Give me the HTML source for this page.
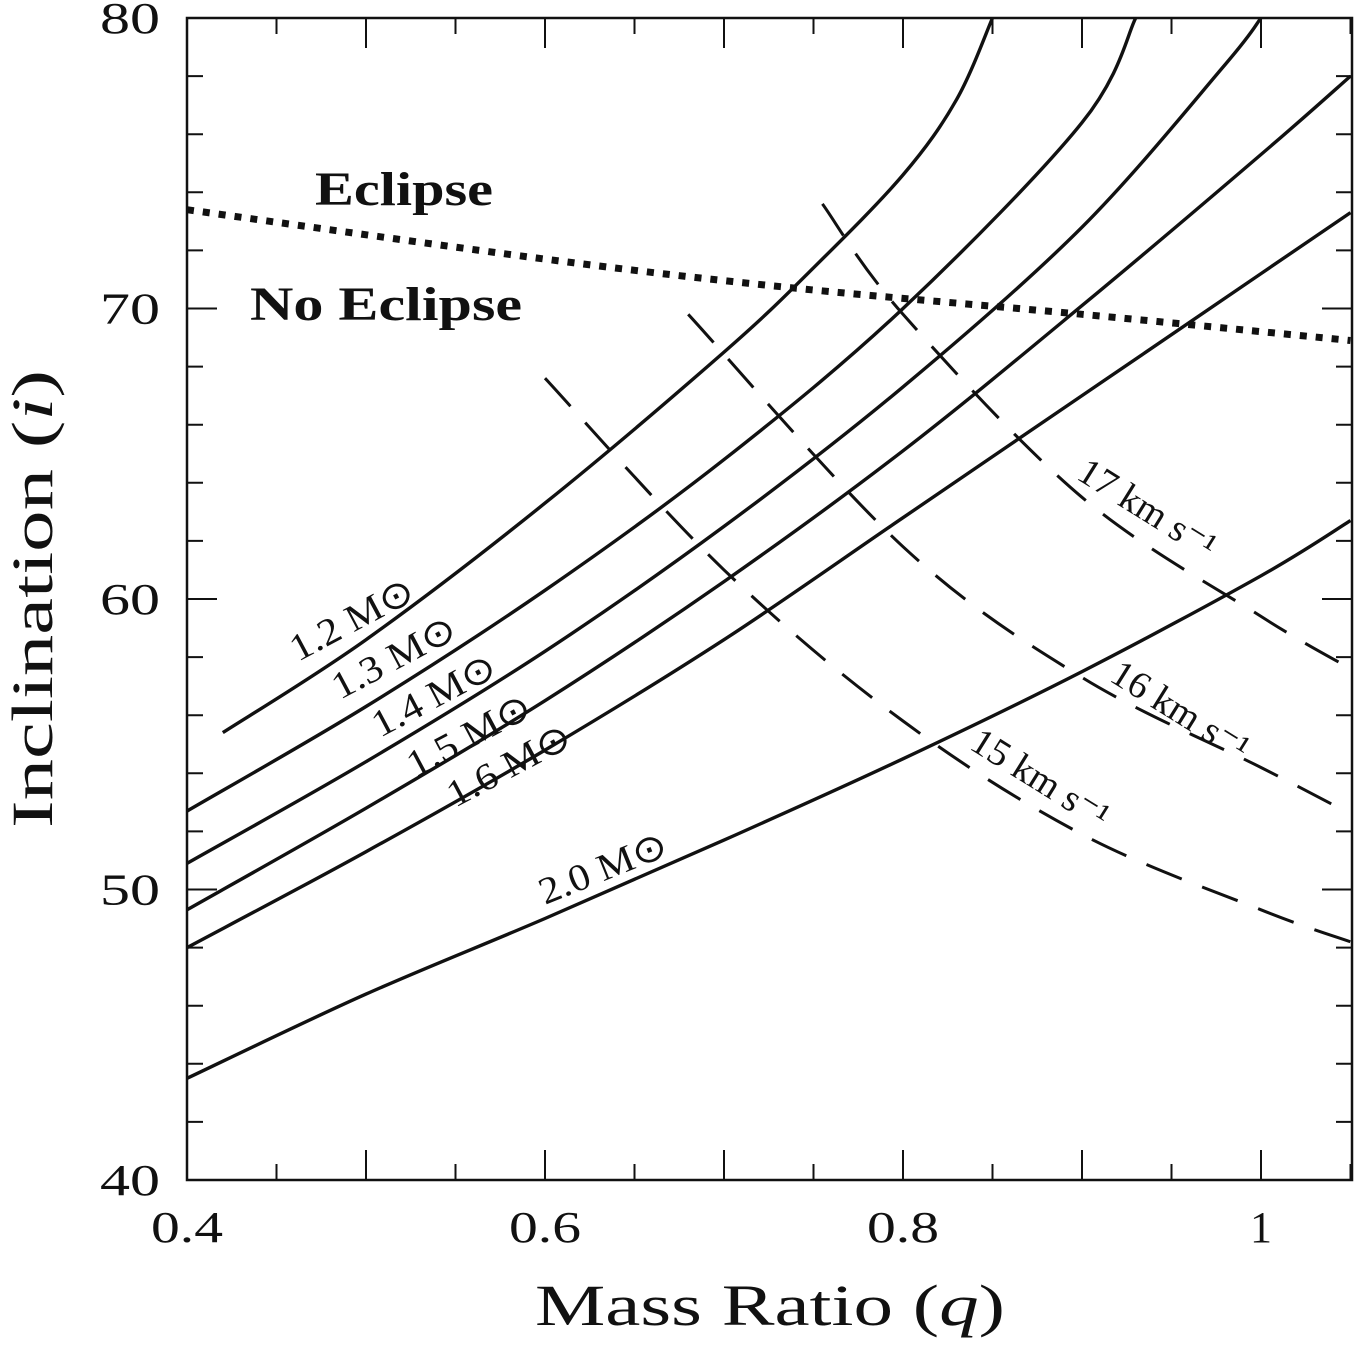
<!DOCTYPE html>
<html><head><meta charset="utf-8">
<style>
html,body{margin:0;padding:0;background:#fff;}
svg text{font-family:"Liberation Serif",serif;fill:#111;}
</style></head>
<body>
<svg id="chart" width="1354" height="1340" viewBox="0 0 1354 1340" xmlns="http://www.w3.org/2000/svg">
<g id="grid"></g>
<g id="series"></g>
<g id="labels"></g>
</svg>
<script>
const xTickValues=[0.4,0.6,0.8,1.0];
const xTickLabels=["0.4","0.6","0.8","1"];
const yTickValues=[40,50,60,70,80];
const yTickLabels=["40","50","60","70","80"];
const massNames=["1.2","1.3","1.4","1.5","1.6","2.0"];
const massQ=[
[0.42,0.5,0.6,0.7,0.75,0.8,0.83,0.85],
[0.4,0.5,0.6,0.7,0.8,0.9,0.93],
[0.4,0.5,0.6,0.7,0.8,0.9,0.98,1.0],
[0.4,0.5,0.6,0.7,0.8,0.9,1.0,1.05],
[0.4,0.5,0.6,0.7,0.8,0.9,1.0,1.05],
[0.4,0.5,0.6,0.7,0.8,0.9,1.0,1.05]];
const massI=[
[55.4,58.6,63.3,68.5,71.4,74.6,77.2,80],
[52.7,56.3,60.3,64.8,70,76.4,80],
[50.9,54.4,58.2,62.5,67.3,72.8,78.4,80],
[49.3,52.8,56.5,60.6,65.1,70.1,75.3,78],
[48.0,51.3,54.8,58.6,62.8,67.0,71.2,73.3],
[43.5,46.4,49.0,51.7,54.5,57.5,60.8,62.7]];
const eclipseQ=[0.4,0.6,0.74,0.9,1.05];
const eclipseI=[73.4,71.7,70.7,69.8,68.9];
const kmNames=["15","16","17"];
const kmQ=[[0.6,0.7,0.8,0.9,1.0,1.05],[0.68,0.8,0.9,1.0,1.05],[0.755,0.8,0.9,1.0,1.05]];
const kmI=[[67.6,61.0,55.8,51.9,49.3,48.2],[69.8,61.8,57.3,54.2,52.6],[73.6,69.8,63.5,59.4,57.6]];

const X0=187,X1=1352,Y0=18,Y1=1180;
const xs=q=>X0+(q-0.4)*1790;
const ys=i=>Y1-(i-40)*29.05;
const NS="http://www.w3.org/2000/svg";
function mk(tag,attrs,parent){const e=document.createElementNS(NS,tag);for(const k in attrs)e.setAttribute(k,attrs[k]);parent.appendChild(e);return e;}
const grid=document.getElementById('grid'),ser=document.getElementById('series'),lab=document.getElementById('labels');

const frame=mk('rect',{x:X0,y:Y0,width:X1-X0,height:Y1-Y0,fill:'none',stroke:'#111','stroke-width':2.5},grid);


for(let k=0;k<=13;k++){const q=0.4+k*0.05,x=xs(q),L=(k%2===0)?30:16;
 const t=mk('path',{d:`M${x},${Y1}v${-L}M${x},${Y0}v${L}`,stroke:'#111','stroke-width':2},grid);
 
 }
for(let v=40;v<=80;v+=2){const y=ys(v),L=(v%10===0)?30:16;
 const t=mk('path',{d:`M${X0},${y}h${L}M${X1},${y}h${-L}`,stroke:'#111','stroke-width':2},grid);
 
 }
xTickValues.forEach((v,k)=>{const s=xTickLabels[k];const t=mk('text',{x:xs(v),y:1242,'font-size':44,'text-anchor':'middle',textLength:s.length>1?72:22,lengthAdjust:'spacingAndGlyphs'},lab);t.textContent=s;
 
 });
yTickValues.forEach((v,k)=>{const t=mk('text',{x:160,y:ys(v)+15,'font-size':44,'text-anchor':'end',textLength:60,lengthAdjust:'spacingAndGlyphs'},lab);t.textContent=yTickLabels[k];
 
 });

function smooth(qa,ia){const P=qa.map((q,k)=>[xs(q),ys(ia[k])]);let d='M'+P[0][0].toFixed(1)+','+P[0][1].toFixed(1);
 for(let k=0;k<P.length-1;k++){const p0=P[Math.max(0,k-1)],p1=P[k],p2=P[k+1],p3=P[Math.min(P.length-1,k+2)];
  const c1=[p1[0]+(p2[0]-p0[0])/6,p1[1]+(p2[1]-p0[1])/6],c2=[p2[0]-(p3[0]-p1[0])/6,p2[1]-(p3[1]-p1[1])/6];
  d+=`C${c1[0].toFixed(1)},${c1[1].toFixed(1)} ${c2[0].toFixed(1)},${c2[1].toFixed(1)} ${p2[0].toFixed(1)},${p2[1].toFixed(1)}`;}
 return d;}
massQ.forEach((qa,k)=>{const p=mk('path',{d:smooth(qa,massI[k]),fill:'none',stroke:'#111','stroke-width':3.4},ser);
 
 });
kmQ.forEach((qa,k)=>{const p=mk('path',{d:smooth(qa,kmI[k]),fill:'none',stroke:'#111','stroke-width':3,'stroke-dasharray':'38,22'},ser);
 
 });
const ec=mk('path',{d:smooth(eclipseQ,eclipseI),fill:'none',stroke:'#111','stroke-width':7,'stroke-dasharray':'7,9'},ser);



function rlabel(txt,x,y,ang,name,len){const t=mk('text',{x:x,y:y,'font-size':38,textLength:len,lengthAdjust:'spacingAndGlyphs',transform:`rotate(${ang} ${x} ${y})`},lab);t.textContent=txt;
 
 }
rlabel('1.2 M⊙',298,662,-28,'label-1.2',135);
rlabel('1.3 M⊙',340,700,-28,'label-1.3',135);
rlabel('1.4 M⊙',380,738,-28,'label-1.4',135);
rlabel('1.5 M⊙',415,778,-28,'label-1.5',135);
rlabel('1.6 M⊙',455,808,-28,'label-1.6',135);
rlabel('2.0 M⊙',545,905,-22,'label-2.0',135);
rlabel('17 km s⁻¹',1075,478,32,'label-17-km',155);
rlabel('16 km s⁻¹',1108,680,32,'label-16-km',155);
rlabel('15 km s⁻¹',968,748,32,'label-15-km',155);
const e1=mk('text',{x:315,y:205,'font-size':48,'font-weight':'bold',textLength:178,lengthAdjust:'spacingAndGlyphs'},lab);e1.textContent='Eclipse';


const e2=mk('text',{x:250,y:320,'font-size':48,'font-weight':'bold',textLength:272,lengthAdjust:'spacingAndGlyphs'},lab);e2.textContent='No Eclipse';


const xt=mk('text',{x:535,y:1325,'font-size':58,textLength:470,lengthAdjust:'spacingAndGlyphs'},lab);xt.innerHTML='Mass Ratio (<tspan font-style="italic">q</tspan>)';


const yt=mk('text',{x:52,y:828,'font-size':58,textLength:458,lengthAdjust:'spacingAndGlyphs',transform:'rotate(-90 52 828)'},lab);yt.innerHTML='Inclination (<tspan font-style="italic">i</tspan>)';


</script>
</body></html>
